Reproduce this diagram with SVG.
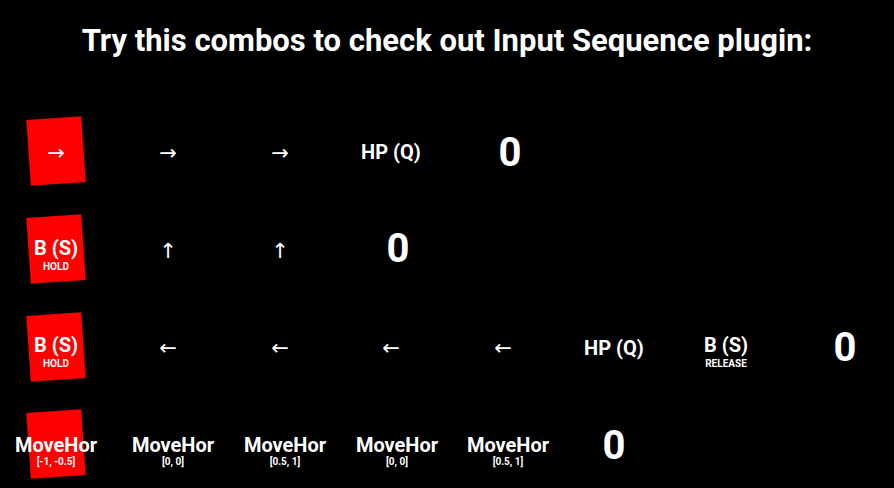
<svg xmlns="http://www.w3.org/2000/svg" width="894" height="488" viewBox="0 0 894 488">
<style>
text{font-family:Roboto,"Liberation Sans",sans-serif;font-weight:bold;fill:#fff;text-anchor:middle}
.t{font-size:31px}
.k{font-size:20px}
.s{font-size:10px}
.a{font-size:21px;font-family:"DejaVu Sans",sans-serif;font-weight:normal}
.z{font-size:40px}
.sq{fill:#ff0000}
</style>
<rect width="894" height="488" fill="#000"/>
<text class="t" x="447" y="51">Try this combos to check out Input Sequence plugin:</text>
<g id="row1">
<rect class="sq" x="-27.5" y="-33" width="55" height="66" transform="translate(56,151) rotate(-4)"/>
<text class="a" x="56" y="160">→</text>
<text class="a" x="168" y="160">→</text>
<text class="a" x="280" y="160">→</text>
<text class="k" x="391" y="159">HP (Q)</text>
<text class="z" x="510" y="166">0</text>
</g>
<g id="row2">
<rect class="sq" x="-27.5" y="-33" width="55" height="66" transform="translate(56,249) rotate(-4)"/>
<text class="k" x="56" y="255">B (S)</text>
<text class="s" x="56" y="270">HOLD</text>
<text class="a" x="168" y="258">↑</text>
<text class="a" x="280" y="258">↑</text>
<text class="z" x="398" y="262">0</text>
</g>
<g id="row3">
<rect class="sq" x="-27.5" y="-33" width="55" height="66" transform="translate(56,347) rotate(-4)"/>
<text class="k" x="56" y="352">B (S)</text>
<text class="s" x="56" y="367">HOLD</text>
<text class="a" x="168" y="355">←</text>
<text class="a" x="280" y="355">←</text>
<text class="a" x="391" y="355">←</text>
<text class="a" x="503" y="355">←</text>
<text class="k" x="614" y="355">HP (Q)</text>
<text class="k" x="726" y="352">B (S)</text>
<text class="s" x="726" y="367">RELEASE</text>
<text class="z" x="845" y="361">0</text>
</g>
<g id="row4">
<rect class="sq" x="-27.5" y="-33" width="55" height="66" transform="translate(56,444) rotate(-4)"/>
<text class="k" x="56" y="452">MoveHor</text>
<text class="s" x="56" y="465">[-1, -0.5]</text>
<text class="k" x="173" y="452">MoveHor</text>
<text class="s" x="173" y="465">[0, 0]</text>
<text class="k" x="285" y="452">MoveHor</text>
<text class="s" x="285" y="465">[0.5, 1]</text>
<text class="k" x="397" y="452">MoveHor</text>
<text class="s" x="397" y="465">[0, 0]</text>
<text class="k" x="508" y="452">MoveHor</text>
<text class="s" x="508" y="465">[0.5, 1]</text>
<text class="z" x="614" y="459">0</text>
</g>
</svg>
